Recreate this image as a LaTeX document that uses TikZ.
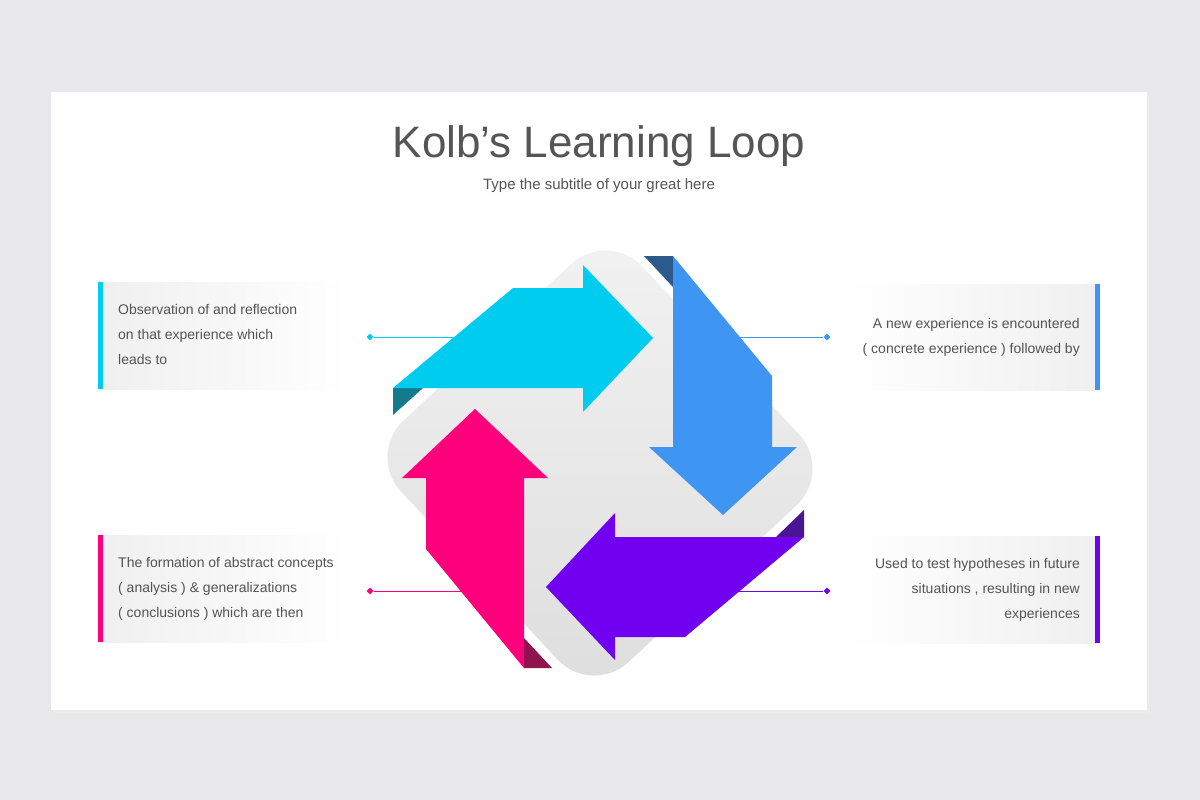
\documentclass[tikz,border=0pt]{standalone}
\usepackage{fontspec}
\setmainfont{Liberation Sans}
\usetikzlibrary{shapes.geometric}
\begin{document}
\begin{tikzpicture}[x=1pt,y=-1pt,
  txt/.style={text=black!67, font=\fontsize{14}{25}\selectfont, inner sep=0pt},
  dot/.style={diamond, fill=#1, minimum size=7pt, inner sep=0pt},
  conn/.style={draw=#1, line width=0.9pt}]
\useasboundingbox (0,0) rectangle (1200,800);
\definecolor{bg}{HTML}{E8E7E9}
\definecolor{cy}{HTML}{00CCF0}
\definecolor{bl}{HTML}{3F95F2}
\definecolor{pu}{HTML}{7200F0}
\definecolor{pk}{HTML}{FF007D}
\definecolor{tx}{HTML}{555555}
\definecolor{fcy}{HTML}{157A8C}
\definecolor{fbl}{HTML}{2D5A8A}
\definecolor{fpu}{HTML}{4A1590}
\definecolor{fpk}{HTML}{8E1450}
\fill[bg] (0,0) rectangle (1200,800);
\fill[black!8] (53,95) rectangle (1150,713);
\fill[white] (51,92) rectangle (1147,710);
\node[text=tx, font=\fontsize{44}{48}\selectfont] (title) at (599,146) {Kolb's Learning Loop};
\node[text=tx, font=\fontsize{15}{18}\selectfont] (sub) at (599,186) {Type the subtitle of your great here};
% text boxes
\shade[left color=black!6, right color=white] (103,282) rectangle (350,389);
\fill[cy] (98,282) rectangle (103,389);
\shade[left color=white, right color=black!6] (847,284) rectangle (1095,390);
\fill[bl] (1095,284) rectangle (1100,390);
\shade[left color=black!6, right color=white] (103,535) rectangle (350,642);
\fill[pk] (98,535) rectangle (103,642);
\shade[left color=white, right color=black!6] (847,536) rectangle (1095,643);
\fill[pu] (1095,536) rectangle (1100,643);
\node[txt, anchor=north west, align=left] (t1) at (118,304) {Observation of and reflection\\on that experience which\\leads to};
\node[txt, anchor=north east, align=right] (t2) at (1080,318) {A new experience is encountered\\( concrete experience ) followed by};
\node[txt, anchor=north west, align=left] (t3) at (118,557) {The formation of abstract concepts\\( analysis ) \& generalizations\\( conclusions ) which are then};
\node[txt, anchor=north east, align=right] (t4) at (1080,558) {Used to test hypotheses in future\\situations , resulting in new\\experiences};
% connectors
\node[dot=cy] (d1) at (370,337) {};
\node[dot=bl] (d2) at (827,337) {};
\node[dot=pk] (d3) at (370,591) {};
\node[dot=pu] (d4) at (827,591) {};
\coordinate (c1) at (470,337);
\coordinate (c2) at (730,337);
\coordinate (c3) at (470,591);
\coordinate (c4) at (730,591);
\draw[conn=cy] (d1) -- (c1);
\draw[conn=bl] (d2) -- (c2);
\draw[conn=pk] (d3) -- (c3);
\draw[conn=pu] (d4) -- (c4);
% gray rounded square
\shade[rotate around={43:(600,463)}, top color=black!5, bottom color=black!13, rounded corners=50pt]
  (435,298) rectangle (765,628);
% folds
\fill[fcy] (393,388) -- (423,388) -- (393,415) -- cycle;
\fill[fbl] (644,256) -- (673,256) -- (673,287) -- cycle;
\fill[fpu] (804,510) -- (804,537) -- (776,537) -- cycle;
\fill[fpk] (524,638) -- (524,668) -- (552,668) -- cycle;
% arrows
\fill[cy] (393,388) -- (583,388) -- (583,412) -- (653,338) -- (583,265) -- (583,288) -- (513,288) -- cycle;
\fill[bl] (673,256) -- (772,376) -- (772,447) -- (797,447) -- (723,515) -- (649,447) -- (673,447) -- cycle;
\fill[pu] (804,537) -- (615,537) -- (615,513) -- (546,587) -- (615,660) -- (615,637) -- (685,637) -- cycle;
\fill[pk] (524,668) -- (524,478) -- (548,478) -- (475,409) -- (402,478) -- (426,478) -- (426,549) -- cycle;
\end{tikzpicture}
\end{document}
